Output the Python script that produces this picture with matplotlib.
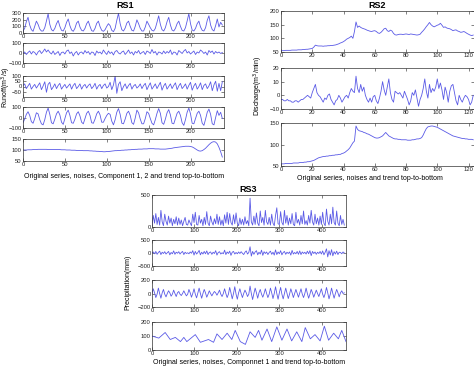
import numpy as np
import matplotlib
matplotlib.use("Agg")
from matplotlib import pyplot as plt

plt.rcParams['font.family'] = ['Liberation Sans', 'DejaVu Sans']

W, H = 474, 367
LINE = '#5a5ae6'

# ---------------- RS1 (monthly, 0..238 step 2) ----------------
rs1_x = np.arange(0, 240, 2)
rs1_orig = [30, 70, 170, 235, 120, 50, 25, 100, 178, 130, 60, 30,
            30, 80, 180, 290, 130, 50, 30, 70, 140, 188, 100, 40,
            30, 80, 160, 210, 110, 45, 25, 70, 150, 178, 90, 40,
            30, 70, 140, 178, 100, 35, 25, 70, 145, 178, 95, 40,
            25, 50, 100, 140, 110, 40, 20, 70, 190, 295, 140, 50,
            30, 75, 150, 178, 100, 40, 30, 100, 197, 140, 70, 30,
            30, 90, 178, 130, 80, 40, 30, 70, 160, 258, 130, 50,
            30, 80, 170, 235, 120, 45, 30, 70, 140, 178, 100, 40,
            30, 80, 180, 290, 140, 45, 30, 70, 140, 178, 90, 40,
            30, 80, 190, 258, 120, 50, 30, 110, 210, 90, 160, 120]
rs1_noise = [-5, 10, -15, 5, 20, -10, 15, 5, -20, 10, 25, -5,
             15, 40, 10, 30, 5, -10, 20, -15, 0, 15, -25, 5,
             10, -10, 20, 30, -5, 10, -30, 0, 15, -20, 5, 10,
             -10, 25, 0, 15, -15, 10, 5, -25, 20, 0, 10, -10,
             30, 5, -15, 20, -5, 10, -20, 15, 25, 0, -10, 10,
             20, -15, 5, 30, -5, 10, -20, 15, 0, 25, -10, 5,
             15, -15, 20, 10, -5, 35, 0, 15, -20, 10, 5, -10,
             20, -5, 15, 0, 30, -15, 10, 5, -20, 25, 10, -5,
             20, 35, 0, 15, -10, 5, 20, -15, 10, 0, 30, 15,
             -5, 10, -20, 25, 5, 20, -10, 15, 0, 10, -5, 5]
rs1_comp1 = [10, 25, -20, 5, 30, -25, 0, 20, -15, 10, 35, -30,
             5, 45, -55, 20, 40, -30, -5, 25, -20, 10, 30, -25,
             0, 20, -15, 5, 25, -25, 10, 30, -20, 0, 25, -25,
             5, 20, -15, 10, 25, -20, 0, 30, -25, 5, 20, -20,
             10, 25, -15, 0, 40, -30, 15, 100, -65, 20, 45, -40,
             0, 25, -20, 10, 30, -25, 5, 20, -15, 0, 25, -20,
             10, 30, -30, 5, 35, -25, 0, 25, -20, 10, 40, -35,
             5, 30, -25, 0, 25, -20, 10, 35, -30, 5, 30, -20,
             0, 25, -25, 10, 40, -35, 5, 30, -25, 0, 35, -30,
             10, 25, -20, 5, 45, -40, 15, 50, -45, 30, -40, 45]
rs1_comp2 = [-50, -15, 30, 55, 20, -40, -55, -10, 45, 35, -20, -60,
             -70, -20, 50, 90, 30, -50, -60, -15, 35, 60, 25, -45,
             -65, -10, 45, 70, 20, -50, -55, -15, 35, 55, 15, -45,
             -60, -10, 40, 60, 20, -50, -55, -15, 35, 60, 25, -45,
             -45, -10, 20, 40, 30, -35, -70, -20, 50, 85, 30, -55,
             -60, -15, 40, 60, 20, -50, -65, -5, 70, 45, -15, -60,
             -60, -10, 55, 40, -10, -55, -70, -20, 40, 85, 40, -50,
             -65, -15, 45, 75, 25, -55, -60, -10, 40, 60, 20, -50,
             -75, -20, 50, 90, 35, -55, -60, -10, 40, 60, 20, -55,
             -75, -15, 50, 80, 30, -60, -70, 0, 65, 20, 50, -10]
rs1_trend = [100, 100, 100, 101, 101, 101, 102, 102, 102, 103, 103, 103, 103, 103, 103, 102, 102, 102, 102, 102,
             102, 102, 102, 101, 101, 101, 100, 100, 100, 99, 99, 99, 98, 98, 98, 98, 97, 97, 97, 97,
             96, 96, 95, 95, 94, 94, 93, 93, 92, 92, 93, 93, 94, 95, 96, 97, 97, 98, 98, 99,
             99, 100, 100, 101, 101, 102, 102, 103, 103, 104, 104, 104, 105, 105, 105, 106, 106, 106, 106, 105,
             105, 105, 104, 104, 104, 104, 105, 106, 107, 108, 110, 111, 112, 113, 114, 115, 116, 117, 117, 117,
             116, 114, 110, 105, 100, 96, 95, 97, 102, 108, 116, 124, 131, 136, 138, 136, 128, 112, 92, 68]

# ---------------- RS2 (0..123) ----------------
rs2_x = np.arange(0, 124)
rs2_orig = [55, 55, 55, 56, 56, 56, 56, 57, 57, 57,
            57, 58, 58, 58, 59, 59, 60, 60, 61, 62,
            63, 68, 75, 73, 72, 72, 72, 71, 72, 72,
            73, 73, 74, 74, 75, 76, 78, 80, 83, 85,
            88, 92, 97, 100, 103, 108, 100, 125, 160, 140,
            145, 140, 137, 135, 133, 130, 128, 126, 125, 127,
            128, 125, 120, 118, 122, 128, 135, 137, 128, 125,
            130, 127, 118, 113, 112, 114, 115, 115, 114, 115,
            116, 115, 114, 116, 115, 114, 113, 112, 113, 115,
            122, 128, 135, 143, 150, 158, 150, 145, 142, 145,
            148, 150, 155, 148, 140, 142, 138, 136, 135, 132,
            128, 130, 131, 127, 125, 122, 123, 125, 122, 118,
            115, 112, 110, 112]
rs2_noise = [-3, -3, -4, -4, -3, -4, -4, -5, -5, -4,
             -4, -5, -4, -3, -3, -2, -1, 0, -1, -2,
             2, 5, 8, 2, 0, -1, -3, -5, -2, -3,
             0, 1, -3, -5, -7, -4, -3, 0, -2, -5,
             -3, -1, 0, -2, 2, 5, 3, 2, 14, 5,
             2, 8, 3, 6, 0, -3, -5, -2, -5, -1,
             0, -4, -6, -2, 3, 10, 4, 0, 6, 12,
             2, -3, -5, 3, 2, 1, 2, 0, -2, 3,
             0, -3, -7, -4, 2, 0, 4, -2, -8, -3,
             0, 5, 12, 3, -2, 8, 2, 5, 3, 6,
             12, 5, 9, 4, -3, 6, 2, -5, 3, 7,
             8, 2, -4, -7, 0, -3, -5, -2, 0, -1,
             -3, -7, -5, 0]
rs2_trend = [55, 55, 55, 56, 56, 56, 56, 56, 57, 57,
             57, 57, 58, 58, 58, 59, 59, 60, 60, 61,
             62, 63, 65, 67, 69, 70, 71, 72, 72, 73,
             73, 74, 74, 75, 75, 76, 76, 77, 77, 79,
             80, 82, 85, 88, 92, 98, 104, 108, 143, 135,
             132, 131, 130, 128, 127, 125, 124, 122, 120, 118,
             116, 115, 115, 116, 118, 120, 124, 128, 124, 120,
             118, 116, 114, 113, 113, 112, 112, 111, 111, 111,
             111, 110, 110, 110, 111, 111, 112, 113, 113, 114,
             116, 122, 130, 137, 141, 142, 143, 143, 142, 141,
             140, 138, 136, 134, 132, 130, 128, 126, 124, 122,
             120, 119, 118, 117, 116, 115, 114, 114, 113, 113,
             112, 112, 112, 111]

# ---------------- RS3 (0..453 step 3) ----------------
rs3_x = np.arange(0, 456, 3)
rs3_orig = [20, 180, 60, 210, 40, 150, 30, 260, 80, 20, 200, 90,
            30, 170, 60, 140, 20, 120, 50, 160, 30, 140, 40, 110,
            20, 90, 150, 40, 30, 110, 60, 20, 200, 70, 230, 40,
            30, 180, 60, 120, 20, 150, 40, 240, 60, 20, 170, 80,
            30, 130, 50, 200, 40, 160, 30, 110, 20, 190, 60, 230,
            40, 210, 70, 30, 190, 50, 220, 60, 20, 140, 40, 120,
            30, 160, 50, 100, 20, 450, 80, 30, 170, 40, 220, 60,
            20, 250, 70, 150, 30, 260, 80, 40, 150, 30, 200, 60,
            20, 180, 300, 50, 40, 240, 70, 30, 260, 60, 180, 30,
            140, 50, 210, 40, 20, 230, 60, 120, 30, 180, 50, 250,
            40, 100, 30, 180, 60, 260, 80, 30, 200, 50, 140, 30,
            170, 40, 230, 60, 20, 280, 90, 30, 200, 50, 310, 70,
            30, 250, 60, 20, 180, 40, 120, 30]
rs3_noise = [0, 40, -30, 60, -50, 20, 70, -60, 30, -20, 50, -40,
             10, 60, -70, 20, -30, 80, -50, 30, -10, 50, -40, 20,
             60, -60, 30, -20, 10, -30, 40, -10, 90, -80, 60, -40,
             20, 100, -70, 30, -40, 60, -30, 80, -60, 20, 40, -50,
             30, -20, 90, -80, 20, 50, -40, 10, -30, 110, -60, 40,
             -20, 70, -90, 30, 60, -40, 20, -30, 40, -20, 50, -10,
             -60, 30, 80, -40, 20, 240, -120, 60, -50, 40, 90, -70,
             30, -40, 110, -90, 50, -20, 40, -60, 20, 70, -50, 30,
             -80, 120, -60, 40, -30, 90, -70, 20, 60, -50, 30, -20,
             40, -80, 100, -40, 20, -30, 60, -50, 80, -60, 40, -20,
             30, -40, 70, -30, 90, -100, 60, -20, 40, -50, 30, -20,
             60, -40, 80, -70, 30, 160, -150, 90, -80, 130, -110, 50,
             -40, 70, -60, 30, 20, -30, 40, 0]
rs3_comp1 = [0, 70, 10, -60, -10, 80, 0, -70, 10, 60, -10, -50,
             0, 40, 10, -40, -10, 50, 0, -45, 10, 30, -10, -30,
             0, 40, 0, -35, -10, 60, 10, -55, 0, 70, -10, -65,
             10, 80, 0, -70, 0, 60, 10, -55, -10, 40, 0, -35,
             0, 30, 10, -25, 10, 50, -10, -45, 0, 70, 0, -60,
             -10, 90, 10, -80, 0, 100, -10, -85, 10, 70, 0, -60,
             0, 50, 10, -45, -10, 110, 0, -90, 0, 80, 10, -70,
             10, 60, -10, -55, 0, 70, 0, -60, -10, 80, 10, -75,
             0, 100, 0, -85, 10, 90, -10, -80, 0, 80, 0, -75,
             -10, 70, 10, -60, 0, 60, 0, -55, 10, 70, -10, -60,
             0, 80, 0, -70, -10, 60, 10, -55, 0, 50, 0, -45,
             10, 70, -10, -60, 0, 90, 10, -80, -10, 80, 0, -70,
             0, 60, 10, -50, 10, 40, 0, 10]
rs3_trend_x = [0, 16, 31, 43, 55, 67, 75, 82, 102, 114, 133, 145, 153, 165,
               177, 188, 196, 208, 220, 231, 243, 251, 259, 271, 282, 294,
               306, 318, 329, 341, 353, 361, 373, 384, 396, 406, 416, 428,
               439, 447, 457]
rs3_trend = [100, 85, 125, 75, 90, 60, 90, 60, 110, 55, 75, 55, 115, 75,
             120, 75, 140, 60, 40, 130, 90, 140, 70, 150, 60, 165,
             70, 150, 65, 130, 60, 160, 80, 110, 65, 170, 70, 120,
             80, 140, 60]

fig = plt.figure(figsize=(W / 100, H / 100), dpi=100)


def px_axes(left, top, right, bottom):
    return fig.add_axes([left / W, 1 - bottom / H, (right - left) / W, (bottom - top) / H])


def style(ax, xlim, xticks, ylim, yticks):
    ax.set_xlim(*xlim)
    ax.set_ylim(*ylim)
    ax.set_xticks(xticks)
    ax.set_yticks(yticks)
    ax.tick_params(direction='in', top=True, right=True, length=2, width=0.4,
                   labelsize=4.2, pad=1, colors='#222222')
    for s in ax.spines.values():
        s.set_linewidth(0.5)
        s.set_color('#333333')


def draw(ax, x, y):
    ax.plot(x, y, color=LINE, lw=0.6)


# RS1
rs1_rows = [(13, 33), (43, 63), (76, 97), (107, 128), (139, 161)]
rs1_data = [rs1_orig, rs1_noise, rs1_comp1, rs1_comp2, rs1_trend]
rs1_lims = [((0, 300), [0, 100, 200, 300]), ((-100, 100), [-100, 0, 100]),
            ((-100, 100), [-50, 0, 50, 100]), ((-100, 100), [-100, 0, 100]),
            ((50, 150), [50, 100, 150])]
for (t, b), y, (yl, yt) in zip(rs1_rows, rs1_data, rs1_lims):
    ax = px_axes(23, t, 224, b)
    draw(ax, rs1_x, y)
    style(ax, (0, 240), [0, 50, 100, 150, 200], yl, yt)

# RS2
rs2_rows = [(11, 52), (68, 109), (123, 166)]
rs2_data = [rs2_orig, rs2_noise, rs2_trend]
rs2_lims = [((50, 200), [50, 100, 150, 200]), ((-10, 20), [-10, 0, 10, 20]),
            ((50, 150), [50, 100, 150])]
for (t, b), y, (yl, yt) in zip(rs2_rows, rs2_data, rs2_lims):
    ax = px_axes(281, t, 474, b)
    draw(ax, rs2_x, y)
    style(ax, (0, 123.5), [0, 20, 40, 60, 80, 100, 120], yl, yt)

# RS3
rs3_rows = [(195, 227), (240, 266), (280, 307), (322, 350)]
rs3_lims = [((0, 500), [0, 500]), ((-500, 500), [-500, 0, 500]),
            ((-200, 200), [-200, 0, 200]), ((0, 200), [0, 100, 200])]
rs3_data = [(rs3_x, rs3_orig), (rs3_x, rs3_noise), (rs3_x, rs3_comp1), (rs3_trend_x, rs3_trend)]
for (t, b), (x, y), (yl, yt) in zip(rs3_rows, rs3_data, rs3_lims):
    ax = px_axes(152, t, 346, b)
    draw(ax, x, y)
    style(ax, (0, 457), [0, 100, 200, 300, 400], yl, yt)


def ftext(x, y, s, **kw):
    fig.text(x / W, 1 - y / H, s, ha='center', va='center', **kw)


ftext(125, 5, 'RS1', fontsize=6.5, fontweight='bold')
ftext(377, 5, 'RS2', fontsize=6.5, fontweight='bold')
ftext(248, 189, 'RS3', fontsize=6.5, fontweight='bold')

ftext(124, 176, 'Original series, noises, Component 1, 2 and trend top-to-bottom', fontsize=5)
ftext(370, 178, 'Original series, noises and trend top-to-bottom', fontsize=5)
ftext(249, 362, 'Original series, noises, Componnet 1 and trend top-to-bottom', fontsize=5)

ftext(6, 87, 'Runoff(m$^3$/s)', fontsize=5, rotation=90)
ftext(258, 86, 'Discharge(m$^3$/min)', fontsize=5, rotation=90)
ftext(128, 282, 'Precipitation(mm)', fontsize=5, rotation=90)

fig.savefig('out.png', dpi=100)
